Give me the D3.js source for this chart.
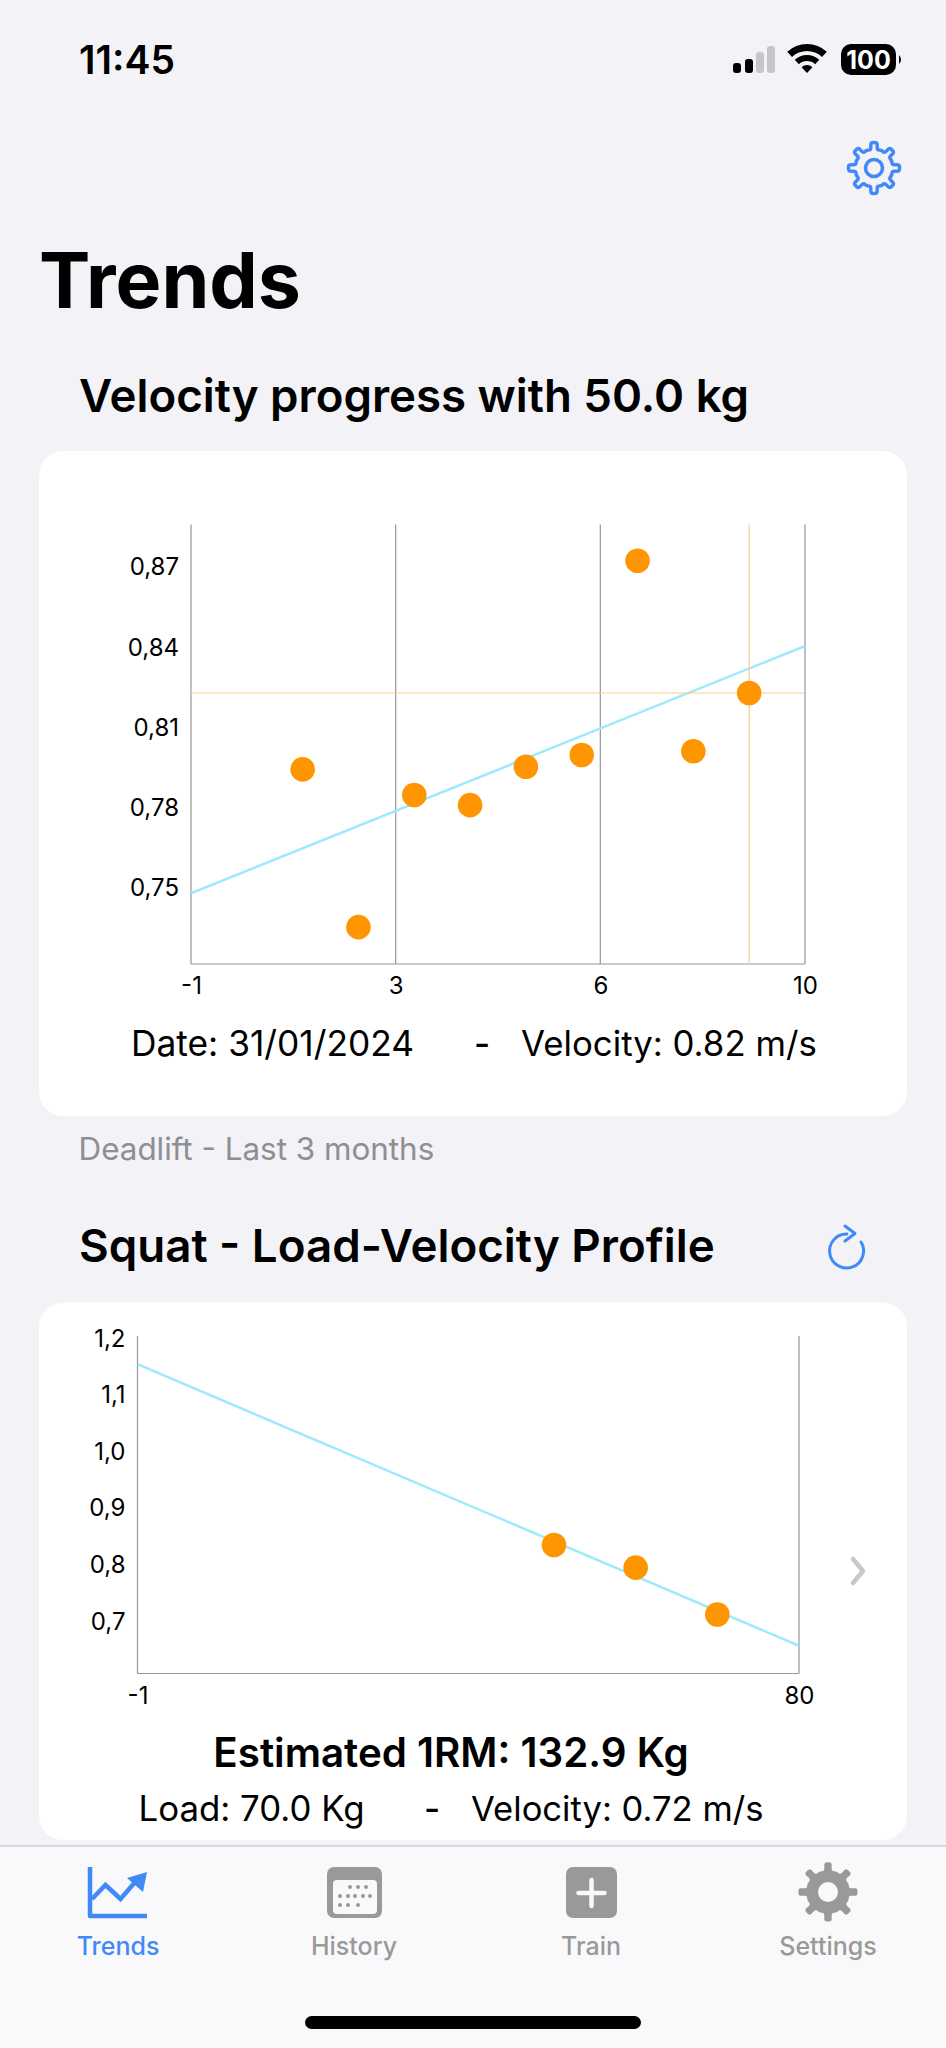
<!DOCTYPE html>
<html><head><meta charset="utf-8">
<script src="https://cdnjs.cloudflare.com/ajax/libs/d3/7.8.5/d3.min.js"></script>
<style>
html,body{margin:0;padding:0;background:#f2f2f7}
svg{display:block}
text{font-family:Inter,"Noto Sans",sans-serif;fill:#000}
</style></head><body>
<svg id="app" width="946" height="2048" viewBox="0 0 946 2048"></svg>
<script>
// --- Chart 1 data: velocity progress
const progressX = [1,2,3,4,5,6,7,8,9];
const progressY = [0.7943,0.7352,0.7847,0.7809,0.7953,0.7997,0.8724,0.8011,0.8229];
const progressTrendX = [-1,10];
const progressTrendY = [0.7479,0.8405];
const progressXDomain = [-1,10];
const progressYDomain = [0.7214,0.8860];
const progressXTicks = [-1,2.667,6.333,10];
const progressXLabels = ["-1","3","6","10"];
const progressYTicks = [0.75,0.78,0.81,0.84,0.87];
const selectedProgress = [9,0.8229];
// --- Chart 2 data: load-velocity profile
const loadX = [50,60,70];
const loadY = [0.8349,0.795,0.7123];
const loadTrendX = [-1,80];
const loadTrendY = [1.1544,0.657];
const loadXDomain = [-1,80];
const loadYDomain = [0.608,1.2042];
const loadXTicks = [-1,80];
const loadYTicks = [0.7,0.8,0.9,1.0,1.1,1.2];
// --- Tab bar
const tabNames = ["Trends","History","Train","Settings"];
const tabCentres = [118,354,591,828];

const BLUE="#4089f7", GREY="#999999", AXIS="#969696", CROSS="#ffc98c", TREND="#9fe9fd", DOT="#ff9500";
const svg=d3.select("#app");
svg.append("rect").attr("width",946).attr("height",2048).attr("fill","#f2f2f7");
const comma=d3.formatLocale({decimal:",",thousands:".",grouping:[3],currency:["",""]});

function label(x,y,s,size,weight,opt={}){
  return svg.append("text").attr("x",x).attr("y",y).attr("font-size",size).attr("font-weight",weight)
    .attr("text-anchor",opt.anchor||"start").style("fill",opt.fill||"#000")
    .attr("letter-spacing",opt.ls||null).text(s);
}
function gearPts(cx,cy,R,r,n){
  const pts=[];
  for(let i=0;i<n;i++){
    const a=i*2*Math.PI/n, w=2*Math.PI/n;
    [[-.5,r],[-.24,r],[-.14,R],[.14,R],[.24,r]].forEach(([f,rad])=>{
      const t=a+f*w; pts.push([cx+rad*Math.sin(t),cy-rad*Math.cos(t)]);
    });
  }
  return d3.line().curve(d3.curveCatmullRomClosed.alpha(.5))(pts);
}

// Status bar
label(79,74,"11:45",39,600);
const sigH=[10,14,21,27], sigX=[733,745,756,767];
sigH.forEach((h,i)=>svg.append("rect").attr("x",sigX[i]).attr("y",73-h).attr("width",8).attr("height",h).attr("rx",3)
  .attr("fill",i<2?"#000":"#c6c6c8"));
[[0,8],[12,18],[22,29]].forEach(([a,b])=>svg.append("path")
  .attr("d",d3.arc().innerRadius(a).outerRadius(b).startAngle(-.75).endAngle(.75)())
  .attr("transform","translate(807,73)").attr("fill","#000"));
svg.append("rect").attr("x",841).attr("y",44).attr("width",55).attr("height",31).attr("rx",10).attr("fill","#000");
svg.append("path").attr("d","M899,55 q4,4.5 0,9 z").attr("fill","#000");
label(868.5,69,"100",25,700,{anchor:"middle",fill:"#fff"});

// Settings gear
svg.append("path").attr("d",gearPts(874,168,25,19,8)).attr("fill","none").attr("stroke",BLUE).attr("stroke-width",3.5);
svg.append("circle").attr("cx",874).attr("cy",168).attr("r",8.5).attr("fill","none").attr("stroke",BLUE).attr("stroke-width",3.5);

// Titles
label(39,308,"Trends",77,700);
label(79,412,"Velocity progress with 50.0 kg",45.6,600);

// Cards
svg.append("rect").attr("x",39).attr("y",451).attr("width",868).attr("height",665).attr("rx",24).attr("fill","#fff");
svg.append("rect").attr("x",39).attr("y",1302.5).attr("width",868).attr("height",537.5).attr("rx",24).attr("fill","#fff");

function axes(g,x,y,xTicks,xFmt,yTicks,yFmt,tickGap){
  const [x0,x1]=x.range(), [y0,y1]=y.range();
  const xa=g.append("g").attr("transform",`translate(0,${y0})`)
    .call(d3.axisBottom(x).tickValues(xTicks).tickFormat(xFmt).tickSize(0).tickPadding(tickGap));
  xa.select(".domain").remove();
  xa.selectAll("text").attr("font-size",24).style("fill","#000");
  const ya=g.append("g").attr("transform",`translate(${x0},0)`)
    .call(d3.axisLeft(y).tickValues(yTicks).tickFormat(yFmt).tickSize(0).tickPadding(12));
  ya.select(".domain").remove();
  ya.selectAll("text").attr("font-size",24).style("fill","#000");
  g.append("line").attr("x1",x0).attr("x2",x1).attr("y1",y0).attr("y2",y0).attr("stroke",AXIS).attr("stroke-width",1.2);
  g.selectAll(".vgrid").data(xTicks).join("line").attr("class","vgrid")
    .attr("x1",d=>x(d)).attr("x2",d=>x(d)).attr("y1",y0).attr("y2",y1).attr("stroke",AXIS).attr("stroke-width",1.2);
}
function trend(g,x,y,xs,ys){
  g.append("path").attr("d",d3.line().x(d=>x(d[0])).y(d=>y(d[1]))(d3.zip(xs,ys)))
    .attr("fill","none").attr("stroke",TREND).attr("stroke-width",2.5);
}
function dots(g,x,y,xs,ys){
  g.selectAll(".pt").data(d3.zip(xs,ys)).join("circle").attr("class","pt")
    .attr("cx",d=>x(d[0])).attr("cy",d=>y(d[1])).attr("r",12.3).attr("fill",DOT);
}

// Chart 1
const x1=d3.scaleLinear().domain(progressXDomain).range([191,805]);
const y1=d3.scaleLinear().domain(progressYDomain).range([964,524.5]);
const g1=svg.append("g");
axes(g1,x1,y1,progressXTicks,(d,i)=>progressXLabels[i],progressYTicks,comma.format(".2f"),13);
trend(g1,x1,y1,progressTrendX,progressTrendY);
g1.append("line").attr("x1",x1(selectedProgress[0])).attr("x2",x1(selectedProgress[0])).attr("y1",y1.range()[0]).attr("y2",y1.range()[1])
  .attr("stroke",CROSS).attr("stroke-width",1.2);
g1.append("line").attr("x1",x1.range()[0]).attr("x2",x1.range()[1]).attr("y1",y1(selectedProgress[1])).attr("y2",y1(selectedProgress[1]))
  .attr("stroke",CROSS).attr("stroke-width",1.2);
dots(g1,x1,y1,progressX,progressY);
label(131,1056,"Date: 31/01/2024",35.3,400);
label(482,1056,"-",35,500,{anchor:"middle"});
label(521,1056,"Velocity: 0.82 m/s",34.8,400);
label(78.5,1160,"Deadlift - Last 3 months",31.4,400,{fill:"#8e8e93"});

// Chart 2 header
label(79,1262,"Squat - Load-Velocity Profile",45.7,600);
svg.append("path").attr("d","M847,1234 A17,17 0 1 0 861,1242").attr("fill","none").attr("stroke",BLUE).attr("stroke-width",3).attr("stroke-linecap","round");
svg.append("path").attr("d","M845,1226 L855,1233.5 L845,1241").attr("fill","none").attr("stroke",BLUE).attr("stroke-width",3).attr("stroke-linecap","round").attr("stroke-linejoin","round");

// Chart 2
const x2=d3.scaleLinear().domain(loadXDomain).range([137.5,799]);
const y2=d3.scaleLinear().domain(loadYDomain).range([1673.5,1336]);
const g2=svg.append("g");
axes(g2,x2,y2,loadXTicks,d=>String(d),loadYTicks,comma.format(".1f"),13);
trend(g2,x2,y2,loadTrendX,loadTrendY);
dots(g2,x2,y2,loadX,loadY);
svg.append("path").attr("d","M853,1559 L863,1571 L853,1583").attr("fill","none").attr("stroke","#c7c7cc").attr("stroke-width",4.5).attr("stroke-linecap","round").attr("stroke-linejoin","round");
label(451,1767,"Estimated 1RM: 132.9 Kg",40.3,600,{anchor:"middle"});
label(138.5,1821,"Load: 70.0 Kg",34.8,400);
label(432,1821,"-",35,500,{anchor:"middle"});
label(471,1821,"Velocity: 0.72 m/s",34.6,400);

// Tab bar
svg.append("rect").attr("x",0).attr("y",1846).attr("width",946).attr("height",202).attr("fill","#f9f9fb");
svg.append("line").attr("x1",0).attr("x2",946).attr("y1",1846).attr("y2",1846).attr("stroke","#cfcfd2").attr("stroke-width",1.5);
tabNames.forEach((t,i)=>label(tabCentres[i],1955,t,25,500,{anchor:"middle",fill:i==0?BLUE:GREY}));
// trends icon
svg.append("path").attr("d","M90,1867 V1916 H147").attr("fill","none").attr("stroke",BLUE).attr("stroke-width",4.5).attr("stroke-linejoin","round");
svg.append("path").attr("d","M92,1899 L105.5,1885 L120.5,1899 L136,1881").attr("fill","none").attr("stroke",BLUE).attr("stroke-width",4.5);
svg.append("path").attr("d","M147,1872 L127,1878 L143,1892 Z").attr("fill",BLUE);
// history icon
svg.append("rect").attr("x",327).attr("y",1867).attr("width",55).attr("height",51).attr("rx",7).attr("fill",GREY);
svg.append("rect").attr("x",333).attr("y",1880).attr("width",44).attr("height",34).attr("rx",4).attr("fill","#f9f9fb");
[[350,358,366],[340,348,355,363,370],[340,348,358]].forEach((r,j)=>r.forEach(xp=>
  svg.append("circle").attr("cx",xp).attr("cy",1887+j*9).attr("r",2).attr("fill",GREY)));
// train icon
svg.append("rect").attr("x",566).attr("y",1867).attr("width",51).attr("height",51).attr("rx",7).attr("fill",GREY);
svg.append("path").attr("d","M591.5,1880 V1906 M578.5,1893 H604.5").attr("stroke","#f9f9fb").attr("stroke-width",4.5).attr("stroke-linecap","round");
// settings icon
svg.append("path").attr("d",gearPts(828,1892,29,22,8)).attr("fill",GREY);
svg.append("circle").attr("cx",828).attr("cy",1892).attr("r",10).attr("fill","#f9f9fb");
// home indicator
svg.append("rect").attr("x",305).attr("y",2016).attr("width",336).attr("height",13).attr("rx",6.5).attr("fill","#000");
</script>
</body></html>
